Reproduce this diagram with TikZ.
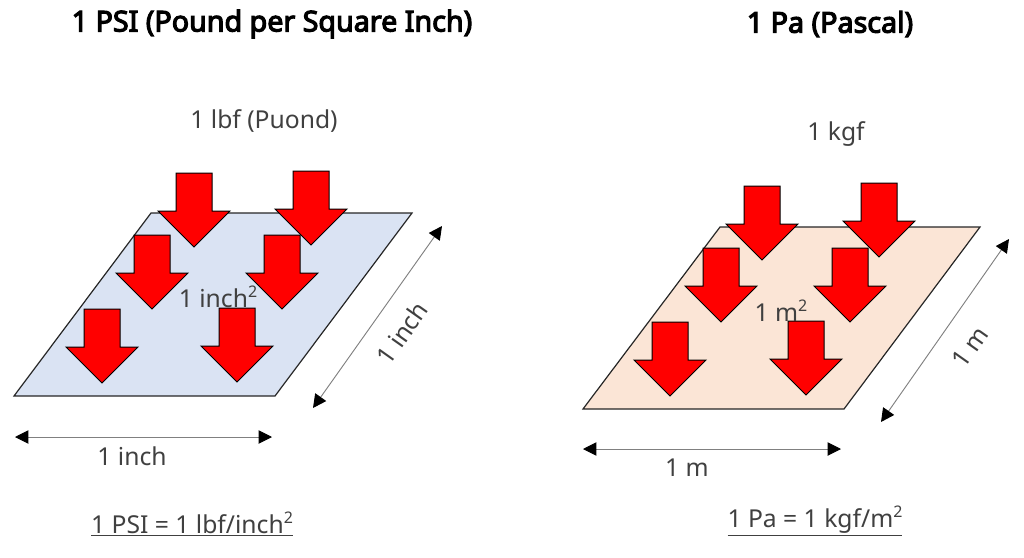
\documentclass[tikz,border=0pt]{standalone}
\usepackage{fontspec}
\setmainfont{Noto Sans}[AutoFakeBold=4]
\usetikzlibrary{arrows.meta}
\definecolor{plateblue}{HTML}{DAE3F3}
\definecolor{plateorange}{HTML}{FBE5D6}
\definecolor{txt}{HTML}{404040}
\newcommand\sqsup{\raisebox{0.75ex}{\fontsize{12}{12}\selectfont 2}}
\begin{document}
\begin{tikzpicture}[x=0.75pt,y=-0.75pt,
  plate/.style={draw=black!85, line width=0.9pt, line join=miter},
  force/.style={draw=black, fill=red, line width=0.75pt, line join=miter},
  dimline/.style={draw=gray, line width=0.7pt,
    {Triangle[length=10pt,width=10pt,black]}-{Triangle[length=10pt,width=10pt,black]}},
  lbl/.style={text=txt, font=\fontsize{18.5}{20}\selectfont, inner sep=0pt},
  ttl/.style={text=black, font=\fontsize{21.5}{24}\selectfont\bfseries, inner sep=0pt},
  forcearrow/.pic={\draw[force] (-18,0) -- (18,0) -- (18,38) -- (36,38) -- (0,74) -- (-36,38) -- (-18,38) -- cycle;}
]
\useasboundingbox (0,0) rectangle (1024,557);

% ---------------- left panel: PSI ----------------
\node[ttl] (psititle) at (272,24) {1 PSI (Pound per Square Inch)};
\node[lbl] (lbf) at (264,121) {1 lbf (Puond)};

\draw[plate, fill=plateblue] (14,396) -- (275,396) -- (412,213) -- (151,213) -- cycle;

\pic at (194,173) {forcearrow};
\pic at (311,171) {forcearrow};
\pic at (152,235) {forcearrow};
\pic at (282,235) {forcearrow};
\pic at (102,309) {forcearrow};
\pic at (237,308) {forcearrow};

\node[lbl] (inarea) at (218,297) {1 inch\sqsup};

\coordinate (ldA) at (313,408);
\coordinate (ldB) at (442,226);
\draw[dimline] (ldA) -- (ldB);
\node[lbl, rotate=54.7] (ldlbl) at (402,333) {1 inch};

\coordinate (lhA) at (15,437);
\coordinate (lhB) at (272,437);
\draw[dimline] (lhA) -- (lhB);
\node[lbl] (lhlbl) at (132,456) {1 inch};

\node[lbl] (psieq) at (192,524) {\underline{1 PSI = 1 lbf/inch\sqsup}};

% ---------------- right panel: Pa ----------------
\node[ttl] (patitle) at (830,24) {1 Pa (Pascal)};
\node[lbl] (kgf) at (836,134) {1 kgf};

\draw[plate, fill=plateorange] (583,409) -- (844,409) -- (980,227) -- (720,227) -- cycle;

\pic at (762,186) {forcearrow};
\pic at (879,183) {forcearrow};
\pic at (721,248) {forcearrow};
\pic at (850,248) {forcearrow};
\pic at (670,322) {forcearrow};
\pic at (806,321) {forcearrow};

\node[lbl] (marea) at (781,311) {1 m\sqsup};

\coordinate (rdA) at (881,422);
\coordinate (rdB) at (1009,239);
\draw[dimline] (rdA) -- (rdB);
\node[lbl, rotate=54.7] (rdlbl) at (970,347) {1 m};

\coordinate (rhA) at (583,449);
\coordinate (rhB) at (841,449);
\draw[dimline] (rhA) -- (rhB);
\node[lbl] (rhlbl) at (687,468) {1 m};

\node[lbl] (paeq) at (815,521) {\underline{1 Pa = 1 kgf/m\sqsup}};
\end{tikzpicture}
\end{document}
